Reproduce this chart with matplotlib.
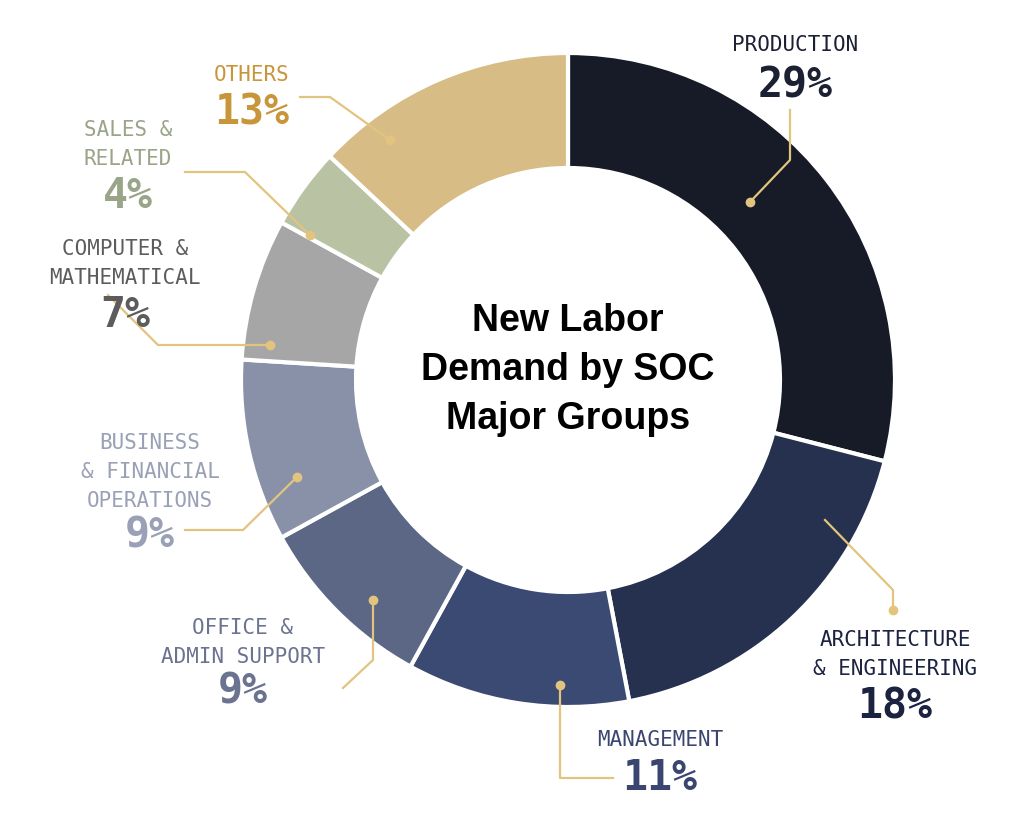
import matplotlib.pyplot as plt

groups = ["PRODUCTION", "ARCHITECTURE\n& ENGINEERING", "MANAGEMENT", "OFFICE &\nADMIN SUPPORT",
          "BUSINESS\n& FINANCIAL\nOPERATIONS", "COMPUTER &\nMATHEMATICAL", "SALES &\nRELATED", "OTHERS"]
shares = [29, 18, 11, 9, 9, 7, 4, 13]
wedge_colors = ["#161b27", "#25314f", "#3b4a72", "#5b6784", "#8991a8", "#a6a6a6", "#b9c2a2", "#d8bc86"]
text_colors = ["#1c2033", "#1c2340", "#3a4670", "#6b7390", "#9aa0b5", "#5c5c5c", "#9aa488", "#c9953a"]

# label placement in pixel coords: (x, y_first_line, ha, pct_y)
label_pos = [(795, 47, "center", 85), (895, 642, "center", 706), (660, 742, "center", 778),
             (243, 630, "center", 692), (150, 445, "center", 536), (125, 251, "center", 315),
             (128, 132, "center", 196), (252, 77, "center", 112)]
leaders = [[(750, 202), (790, 160), (790, 110)],
           [(893, 610), (893, 590), (825, 520)],
           [(560, 685), (560, 778), (613, 778)],
           [(373, 600), (373, 660), (343, 688)],
           [(297, 477), (243, 530), (185, 530)],
           [(270, 345), (158, 345), (108, 295)],
           [(310, 235), (245, 172), (185, 172)],
           [(390, 140), (330, 97), (300, 97)]]

H = 821
fig = plt.figure(figsize=(10.24, 8.21), dpi=100)
ax = fig.add_axes([0, 0, 1, 1])

ax.pie(shares, colors=wedge_colors, startangle=90, counterclock=False,
       center=(568, H - 380), radius=327,
       wedgeprops=dict(width=115, edgecolor="white", linewidth=3))

# pie resets the limits, so set them afterwards
ax.set_xlim(0, 1024)
ax.set_ylim(0, H)
ax.set_aspect("equal")
ax.axis("off")

ax.text(568, H - 370, "New Labor\nDemand by SOC\nMajor Groups", ha="center", va="center",
        fontsize=27, fontweight="bold", family="Liberation Sans", linespacing=1.45, color="black")

for name, (x, y, ha, py), col, s, pts in zip(groups, label_pos, text_colors, shares, leaders):
    xs = [p[0] for p in pts]
    ys = [H - p[1] for p in pts]
    ax.plot(xs, ys, color="#e2c47e", lw=1.6, zorder=3)
    ax.plot(xs[0], ys[0], "o", color="#e2c47e", ms=6, zorder=4)
    n = name.count("\n")
    ax.text(x, H - y, name, ha=ha, va="top", fontsize=15, family="DejaVu Sans Mono",
            color=col, linespacing=1.55, position=(x, H - y + 12))
    ax.text(x, H - py, f"{s}%", ha=ha, va="center", fontsize=30, fontweight="bold",
            family="DejaVu Sans Mono", color=col)

fig.savefig("out.png", dpi=100, facecolor="white")
